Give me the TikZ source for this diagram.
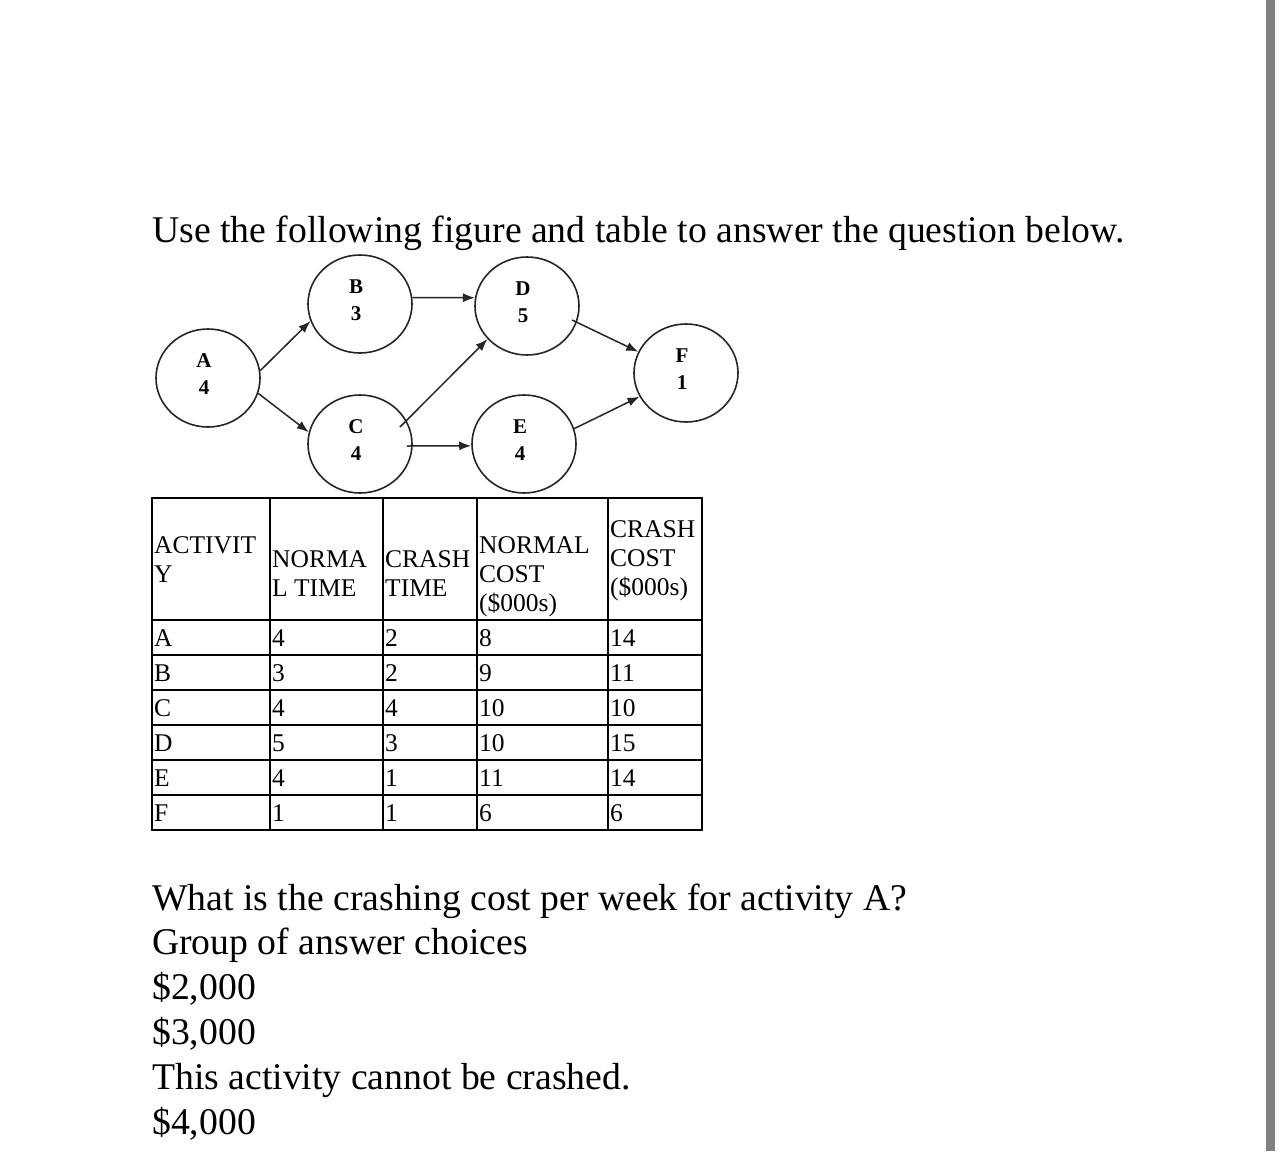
\documentclass[tikz,border=0pt]{standalone}
\usepackage{fontspec}
\setmainfont{Liberation Serif}
\usetikzlibrary{shapes.geometric,arrows.meta,calc}
\definecolor{barGray}{RGB}{128,128,128}
\begin{document}
\begin{tikzpicture}[x=1pt,y=-1pt,
  act/.style={ellipse,draw=black!85,line width=1.6pt,minimum width=104pt,minimum height=98pt,inner sep=0pt},
  actlbl/.style={font=\bfseries\fontsize{21}{27}\selectfont,align=center,xshift=-4pt,yshift=4pt,inner sep=0pt},
  link/.style={draw=black!85,line width=1.5pt,-{Latex[length=12pt,width=9pt]}},
  txt/.style={anchor=base west,inner sep=0pt,font=\fontsize{37.7}{44}\selectfont},
  cell/.style={anchor=base west,inner sep=0pt,font=\fontsize{25.5}{29}\selectfont},
  tabline/.style={line width=2.3pt,black}]
\useasboundingbox (0,0) rectangle (1284,1151);
\fill[white] (0,0) rectangle (1284,1151);
\fill[barGray] (1266,0) rectangle (1275,1151);

% title
\node[txt] (title) at (152,242) {Use the following figure and table to answer the question below.};

% network
\node[act,label={[actlbl]center:{A\\4}}] (A) at (208,378) {};
\node[act,label={[actlbl]center:{B\\3}}] (B) at (360,304) {};
\node[act,label={[actlbl]center:{C\\4}}] (C) at (360,444) {};
\node[act,label={[actlbl]center:{D\\5}}] (D) at (527,306) {};
\node[act,label={[actlbl]center:{E\\4}}] (E) at (524,444) {};
\node[act,label={[actlbl]center:{F\\1}}] (F) at (686,373) {};

\draw[link] (A.8) -- (B.199);
\draw[link] (A.-17) -- (C.167);
\draw[link] (B.7) -- (D.171);
\draw[link] ($(C)+(40,-17)$) -- (D.220);
\draw[link] ($(C)+(47,2)$) -- (E.182);
\draw[link] ($(D)+(45,14)$) -- (F.156);
\draw[link] (E.17) -- (F.207);

% table grid
\foreach \x in {152,270,383,477,608,702} \draw[tabline] (\x,497) -- (\x,831);
\foreach \y in {498,620,655,690,725,760,795,830} \draw[tabline] (151,\y) -- (703,\y);

% header
\node[cell] (h1a) at (154,553) {ACTIVIT};
\node[cell] (h1b) at (154,582) {Y};
\node[cell] (h2a) at (272,567) {NORMA};
\node[cell] (h2b) at (272,596) {L TIME};
\node[cell] (h3a) at (385,567) {CRASH};
\node[cell] (h3b) at (385,596) {TIME};
\node[cell] (h4a) at (479,553) {NORMAL};
\node[cell] (h4b) at (479,582) {COST};
\node[cell] (h4c) at (479,611) {(\$000s)};
\node[cell] (h5a) at (610,537) {CRASH};
\node[cell] (h5b) at (610,566) {COST};
\node[cell] (h5c) at (610,595) {(\$000s)};

% rows
\foreach \r/\a/\b/\c/\d [count=\i from 0] in {A/4/2/8/14, B/3/2/9/11, C/4/4/10/10, D/5/3/10/15, E/4/1/11/14, F/1/1/6/6}{
  \pgfmathsetmacro{\yy}{646+35*\i}
  \node[cell] (r\i c1) at (154,\yy) {\r};
  \node[cell] (r\i c2) at (272,\yy) {\a};
  \node[cell] (r\i c3) at (385,\yy) {\b};
  \node[cell] (r\i c4) at (479,\yy) {\c};
  \node[cell] (r\i c5) at (610,\yy) {\d};
}

% question
\node[txt] (q1) at (152,910) {What is the crashing cost per week for activity A?};
\node[txt] (q2) at (152,954) {Group of answer choices};
\node[txt] (q3) at (152,999) {\$2,000};
\node[txt] (q4) at (152,1044) {\$3,000};
\node[txt] (q5) at (152,1089) {This activity cannot be crashed.};
\node[txt] (q6) at (152,1134) {\$4,000};
\end{tikzpicture}
\end{document}
